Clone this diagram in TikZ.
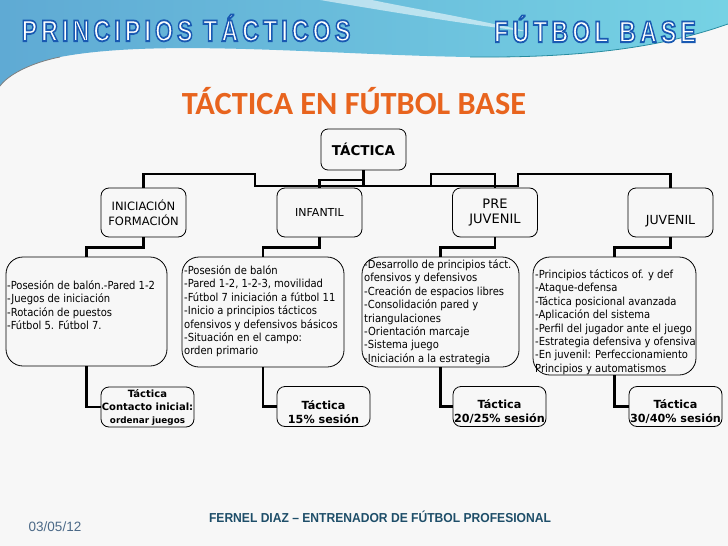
\documentclass[tikz,border=0pt]{standalone}
\usepackage{fontspec}
\usepackage{graphicx}
\setmainfont{DejaVu Sans}
\newfontfamily\condf{DejaVu Sans Condensed}
\newfontfamily\titlef{Carlito}
\newfontfamily\headf[LetterSpace=18]{Liberation Sans}
\newfontfamily\footf{Liberation Sans}
\definecolor{bgc}{RGB}{247,247,247}
\definecolor{ttl}{RGB}{232,100,30}
\definecolor{hdl}{RGB}{95,170,212}
\definecolor{hdm}{RGB}{170,225,238}
\definecolor{hdr}{RGB}{118,210,228}
\definecolor{footc}{RGB}{30,78,105}
\definecolor{datec}{RGB}{75,105,135}
\newcommand{\outl}[1]{\special{pdf:literal direct 2 Tr 1.8 w 0.1 0.35 0.7 RG}#1\special{pdf:literal direct 0 Tr}}
\begin{document}
\begin{tikzpicture}[x=1pt,y=-1pt,
  conn/.style={line width=2.4pt, draw=black},
  lvl/.style={draw, line width=0.8pt, rounded corners=8pt, minimum width=85pt, minimum height=49pt, inner sep=0pt, align=center, font=\fontsize{11.5}{15}\selectfont},
  tbox/.style={draw, line width=0.8pt, rounded corners=17pt, inner sep=0pt},
  bbox/.style={draw, line width=0.8pt, rounded corners=8pt, minimum width=93pt, minimum height=40pt, inner sep=0pt},
  btxt/.style={anchor=base west, align=left, inner sep=0pt, font=\condf\fontsize{11.1}{13.4}\selectfont},
  ltxt/.style={align=center, inner sep=0pt, font=\bfseries\fontsize{11.2}{14}\selectfont},
  hdtxt/.style={text=white, inner sep=0pt, font=\headf\bfseries\fontsize{30}{30}\selectfont}
]
\useasboundingbox (0,0) rectangle (728,546);
\fill[bgc] (0,0) rectangle (728,546);
% banner
\shade[left color=hdl, middle color=hdm, right color=hdr]
  (0,0) -- (728,0) -- (728,24) .. controls (660,48) and (580,58) .. (470,57)
  .. controls (330,55) and (160,38) .. (60,57) .. controls (30,63) and (8,75) .. (0,86) -- cycle;
\fill[white, opacity=0.55] (320,0) -- (372,0) .. controls (410,8) and (470,18) .. (530,32)
  .. controls (450,22) and (380,10) .. (320,0) -- cycle;
\draw[line width=0.8pt, draw={rgb,255:red,40;green,140;blue,160}] (470,57) .. controls (580,58) and (660,48) .. (728,24);
\draw[line width=0.8pt, draw=gray] (60,57) .. controls (30,63) and (8,75) .. (0,86);
\node[hdtxt] (h1) at (186,28) {\scalebox{0.77}[1]{\outl{PRINCIPIOS TÁCTICOS}}};
\node[hdtxt] (h2) at (595,29) {\scalebox{0.77}[1]{\outl{FÚTBOL BASE}}};
% title
\node[text=ttl, inner sep=0pt, font=\titlef\bfseries\fontsize{32.3}{32}\selectfont] (title) at (354,101.5) {TÁCTICA EN FÚTBOL BASE};
% nodes
\node[draw, line width=0.8pt, rounded corners=7pt, minimum width=85pt, minimum height=41pt, inner sep=0pt, font=\bfseries\fontsize{13.5}{16}\selectfont] (tac) at (363.5,149.5) {TÁCTICA};
\node[lvl] (ini) at (143.5,212.5) {INICIACIÓN\\FORMACIÓN};
\node[lvl, font=\fontsize{11}{15}\selectfont] (inf) at (319.5,212.5) {INFANTIL};
\node[lvl, font=\fontsize{13}{15}\selectfont] (pj) at (495,212.5) {PRE\\JUVENIL};
\node[lvl, font=\fontsize{12.5}{15}\selectfont] (jv) at (670.5,212.5) {\strut\\JUVENIL};
\node[tbox, minimum width=161pt, minimum height=109pt] (A) at (86.5,311.5) {};
\node[tbox, minimum width=162pt, minimum height=110pt] (B) at (263,312) {};
\node[tbox, minimum width=157pt, minimum height=110pt] (C) at (440.5,312) {};
\node[tbox, minimum width=163pt, minimum height=118pt] (D) at (614.5,316) {};
\node[btxt] (At) at (7,329.7) {-Posesión de balón.-Pared 1-2\\-Juegos de iniciación\\-Rotación de puestos\\-Fútbol 5. Fútbol 7.};
\node[btxt] (Bt) at (184,354.9) {-Posesión de balón\\-Pared 1-2, 1-2-3, movilidad\\-Fútbol 7 iniciación a fútbol 11\\-Inicio a principios tácticos\\ofensivos y defensivos básicos\\-Situación en el campo:\\orden primario};
\node[btxt] (Ct) at (364,362.3) {-Desarrollo de principios táct.\\ofensivos y defensivos\\-Creación de espacios libres\\-Consolidación pared y\\triangulaciones\\-Orientación marcaje\\-Sistema juego\\-Iniciación a la estrategia};
\node[btxt] (Dt) at (535,372.3) {-Principios tácticos of. y def\\-Ataque-defensa\\-Táctica posicional avanzada\\-Aplicación del sistema\\-Perfil del jugador ante el juego\\-Estrategia defensiva y ofensiva\\-En juvenil: Perfeccionamiento\\Principios y automatismos};
\node[bbox] (E) at (147.5,407) {};
\node[bbox] (F) at (323.5,406.5) {};
\node[bbox] (G) at (499.5,406.5) {};
\node[bbox] (H) at (675.5,406.5) {};
\node[ltxt, font=\bfseries\fontsize{10}{13}\selectfont] (Et) at (147.5,407) {Táctica\\Contacto inicial:\\{\fontsize{8.8}{13}\selectfont ordenar juegos}};
\node[ltxt] (Ft) at (323.5,412) {Táctica\\15\% sesión};
\node[ltxt] (Gt) at (499.5,412) {Táctica\\20/25\% sesión};
\node[ltxt] (Ht) at (675.5,412) {Táctica\\30/40\% sesión};
% connectors
\coordinate (k1) at (255,174);
\coordinate (k2) at (518,186);
\coordinate (k4) at (431,174);
\coordinate (k5) at (319.5,180);
\draw[conn] (ini.north) |- (k1) |- (k2) -- ++(0,-12) -| (jv.north);
\draw[conn] (tac.south) -- (tac.south |- k2);
\draw[conn] (k5 -| tac.south) -| (inf.north);
\draw[conn] (pj.north) |- (k4) -- (k4 |- k2);
\draw[conn] (ini.south) -- ++(0,10) -| (A.north);
\draw[conn] (inf.south) -- ++(0,10) -| (B.north);
\draw[conn] (pj.south) -- ++(0,10) -| (C.north);
\draw[conn] (jv.south) -- ++(0,10) -| (D.north);
\draw[conn] (A.south) |- (E.west);
\draw[conn] (B.south) |- (F.west);
\draw[conn] (C.south) |- (G.west);
\draw[conn] (D.south) |- (H.west);
% footer
\node[text=footc, inner sep=0pt, font=\footf\bfseries\fontsize{13}{13}\selectfont] (foot) at (380,517) {\scalebox{0.93}[1]{FERNEL DIAZ – ENTRENADOR DE FÚTBOL PROFESIONAL}};
\node[text=datec, inner sep=0pt, font=\footf\fontsize{13.5}{13.5}\selectfont] (date) at (55,527) {03/05/12};
\end{tikzpicture}
\end{document}
